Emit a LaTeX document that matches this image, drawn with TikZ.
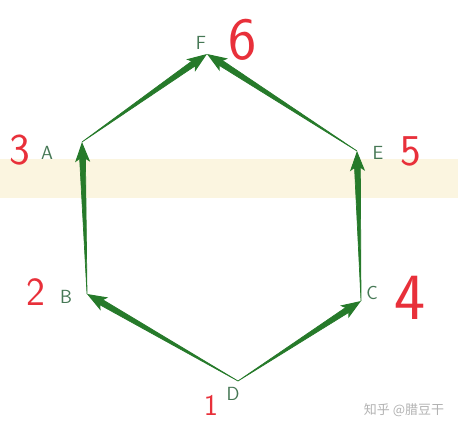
\documentclass[tikz,border=0pt]{standalone}
\usepackage{fontspec}
\newfontfamily\cjk{Noto Sans CJK SC}
\usetikzlibrary{arrows.meta,calc}

\definecolor{arrowgreen}{RGB}{38,122,42}
\definecolor{labelgreen}{RGB}{70,120,85}
\definecolor{handred}{RGB}{232,48,58}
\definecolor{bandyellow}{RGB}{251,245,224}

\tikzset{
    vertex/.style={text=labelgreen, font=\sffamily\fontsize{19}{19}\selectfont, inner sep=0pt},
    order/.style={text=handred, font=\sffamily, inner sep=0pt},
    wedge/.style={draw=arrowgreen, fill=arrowgreen, line width=0.7pt,
        to path={(\tikztostart)
            -- ($(\tikztotarget)!12pt!(\tikztostart)!3pt!90:(\tikztostart)$)
            -- ($(\tikztotarget)!12pt!(\tikztostart)!3pt!-90:(\tikztostart)$)
            -- cycle}},
    tip/.style={draw=arrowgreen, line width=1pt, -{Stealth[length=20pt,width=15pt,inset=5pt]}}
}

\begin{document}
\begin{tikzpicture}[x=1pt, y=-1pt]
    \useasboundingbox (0,0) rectangle (458,430);

    % Band
    \fill[bandyellow] (0,159) rectangle (458,198);

    % Corners
    \coordinate (f) at (207,54);
    \coordinate (a) at (82,142);
    \coordinate (e) at (357,151);
    \coordinate (b) at (87,294);
    \coordinate (c) at (361,301);
    \coordinate (d) at (238,381);

    % Labels
    \node[vertex] (labF) at (201,43) {F};
    \node[vertex] (labA) at (47,153) {A};
    \node[vertex] (labE) at (378,153) {E};
    \node[vertex] (labB) at (66,297) {B};
    \node[vertex] (labC) at (372,293) {C};
    \node[vertex] (labD) at (233,394) {D};

    % Order
    \node[order, font=\sffamily\fontsize{60}{60}\selectfont] (n6) at (243,40) {6};
    \node[order, font=\sffamily\fontsize{44}{44}\selectfont] (n3) at (20,150) {3};
    \node[order, font=\sffamily\fontsize{44}{44}\selectfont] (n5) at (411,151) {5};
    \node[order, font=\sffamily\fontsize{40}{40}\selectfont] (n2) at (36,292) {2};
    \node[order, font=\sffamily\fontsize{66}{66}\selectfont] (n4) at (410,298) {4};
    \node[order, font=\sffamily\fontsize{30}{30}\selectfont] (n1) at (211,405) {1};

    % Edges
    \foreach \s/\t in {d/b, d/c, b/a, c/e, a/f, e/f} {
        \path[wedge] (\s) to (\t);
        \draw[tip] ($(\t)!20pt!(\s)$) -- (\t);
    }

    % Mark
    \node[text=black!30, font=\cjk\fontsize{13}{13}\selectfont, inner sep=0pt] (mark) at (404,410) {知乎 @腊豆干};
\end{tikzpicture}
\end{document}
